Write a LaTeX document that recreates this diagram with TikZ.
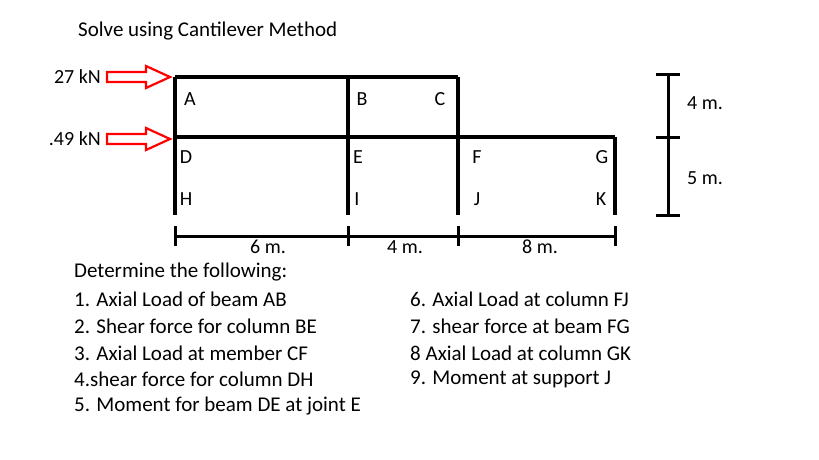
\documentclass[tikz,border=0pt]{standalone}
\usepackage{fontspec}
\setmainfont{Carlito}
\begin{document}
\begin{tikzpicture}[x=1pt,y=-1pt,
  mem/.style={line width=4pt},
  dim/.style={line width=3pt},
  lbl/.style={font=\fontsize{20}{22}\selectfont,inner sep=0pt},
  txt/.style={font=\fontsize{21}{24}\selectfont,inner sep=0pt,anchor=west},
  barrow/.style={draw=red,line width=2.2pt,fill=white,line join=miter}]
\useasboundingbox (0,0) rectangle (819,460);
\fill[white] (0,0) rectangle (819,460);
% frame nodes
\coordinate (A) at (175,77); \coordinate (B) at (348,77); \coordinate (C) at (458,77);
\coordinate (D) at (175,137); \coordinate (E) at (348,137); \coordinate (F) at (458,137); \coordinate (G) at (615,137);
\coordinate (H) at (175,215); \coordinate (I) at (348,215); \coordinate (J) at (458,215); \coordinate (K) at (615,215);
\draw[mem] (A)--(C); \draw[mem] (D)--(G);
\draw[mem] (A)--(H); \draw[mem] (B)--(I); \draw[mem] (C)--(J); \draw[mem] (G)--(K);
% dimension line
\coordinate (d1) at (175,236); \coordinate (d4) at (615,236);
\draw[dim] (d1)--(d4);
\foreach \x in {175,348,458,615} \draw[dim] (\x,226)--(\x,246);
% scale bar
\coordinate (s1) at (668,75); \coordinate (s3) at (668,215);
\draw[dim] (s1)--(s3);
\foreach \y in {75,137,215} \draw[dim] (656,\y)--(680,\y);
% arrows
\foreach \y in {77,139}
  \draw[barrow] (107,\y-5)--(146,\y-5)--(146,\y-11)--(170,\y)--(146,\y+11)--(146,\y+5)--(107,\y+5)--cycle;
\node[lbl,anchor=east] (f1) at (101,77) {27 kN};
\node[lbl,anchor=east] (f2) at (101,139) {.49 kN};
% labels
\node[lbl] (lA) at (190,99) {A}; \node[lbl] (lB) at (362,99) {B}; \node[lbl] (lC) at (440,99) {C};
\node[lbl] (lD) at (186,157) {D}; \node[lbl] (lE) at (358,157) {E}; \node[lbl] (lF) at (477,157) {F}; \node[lbl] (lG) at (602,157) {G};
\node[lbl] (lH) at (186,199) {H}; \node[lbl] (lI) at (357,199) {I}; \node[lbl] (lJ) at (477,199) {J}; \node[lbl] (lK) at (601,199) {K};
\node[lbl] (m6) at (268,247) {6 m.}; \node[lbl] (m4) at (405,247) {4 m.}; \node[lbl] (m8) at (540,247) {8 m.};
\node[lbl] (h4) at (705,103) {4 m.}; \node[lbl] (h5) at (705,178) {5 m.};
% text
\node[txt] (t0) at (78,31) {Solve using Cantilever Method};
\node[txt] (t1) at (74,272) {Determine the following:};
\node[txt] (t2) at (74,299) {1. Axial Load of beam AB};
\node[txt] (t3) at (74,326) {2. Shear force for column BE};
\node[txt] (t4) at (74,353) {3. Axial Load at member CF};
\node[txt] (t5) at (74,379) {4.shear force for column DH};
\node[txt] (t6) at (74,406) {5. Moment for beam DE at joint E};
\node[txt] (t7) at (410,299) {6. Axial Load at column FJ};
\node[txt] (t8) at (410,326) {7. shear force at beam FG};
\node[txt] (t9) at (410,353) {8 Axial Load at column GK};
\node[txt] (t10) at (410,379) {9. Moment at support J};
\end{tikzpicture}
\end{document}
